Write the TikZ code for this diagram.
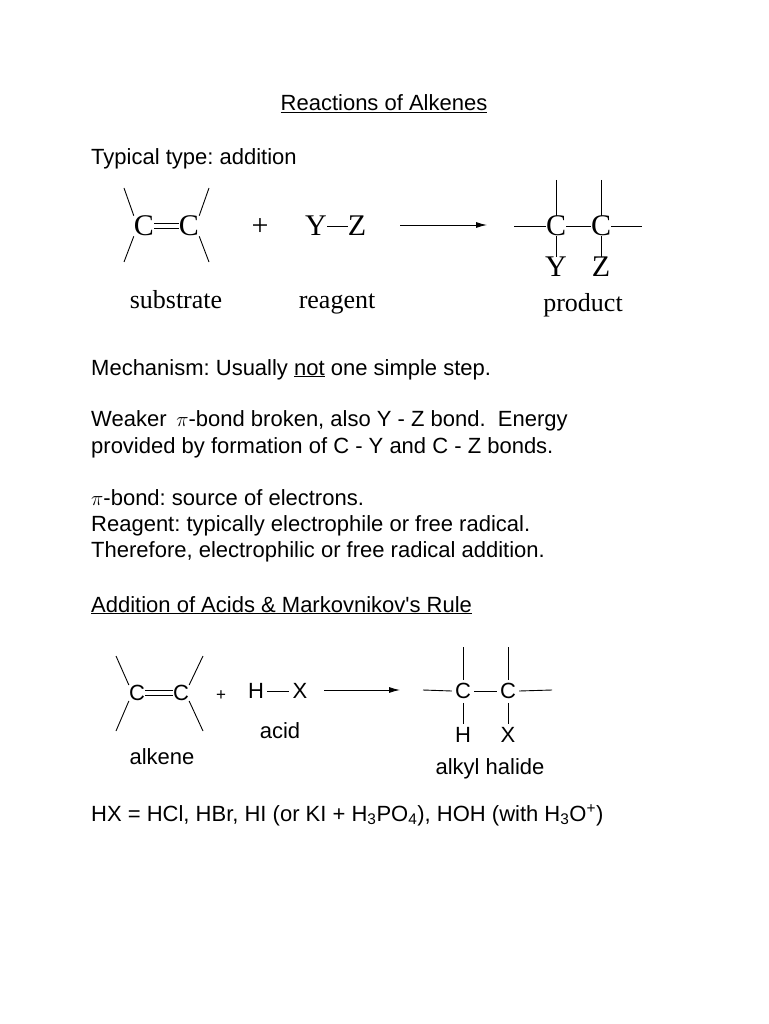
\documentclass[tikz,border=0pt]{standalone}
\usepackage{fontspec}
\setmainfont{Liberation Sans}
\newfontfamily\serif{Liberation Serif}
\usetikzlibrary{arrows.meta}
\frenchspacing
\begin{document}
\begin{tikzpicture}[x=1pt,y=-1pt,
  txt/.style={anchor=base west,inner sep=0pt,font=\fontsize{22}{26}\selectfont},
  ctr/.style={inner sep=0pt,font=\fontsize{22}{26}\selectfont},
  cbase/.style={anchor=base,inner sep=0pt,font=\fontsize{22}{26}\selectfont},
  atm/.style={inner sep=0pt,font=\serif\fontsize{30}{34}\selectfont},
  lbl/.style={anchor=base,inner sep=0pt,font=\serif\fontsize{26}{30}\selectfont},
  bond/.style={line width=0.9pt},
  rarrow/.style={line width=0.9pt,-{Latex[length=11pt,width=6pt]}}]
\useasboundingbox (0,0) rectangle (768,1024);
\node[cbase] (title) at (384,111) {\underline{Reactions of Alkenes}};
\node[txt] (t1) at (91,165) {Typical type: addition};
% top reaction
\node[atm] (c1) at (144,226) {C};
\node[atm] (c2) at (189,226) {C};
\draw[bond] ([yshift=-2.5pt]c1.east) -- ([yshift=-2.5pt]c2.west);
\draw[bond] ([yshift=2.5pt]c1.east) -- ([yshift=2.5pt]c2.west);
\coordinate (a1) at (124,188); \coordinate (a2) at (124,262);
\coordinate (a3) at (209,188); \coordinate (a4) at (209,262);
\draw[bond] (a1) -- (c1.north west) (a2) -- (c1.south west);
\draw[bond] (a3) -- (c2.north east) (a4) -- (c2.south east);
\node[atm] (plus1) at (260,227) {+};
\node[atm] (y1) at (316,226) {Y};
\node[atm] (z1) at (357,226) {Z};
\draw[bond] (y1.east) -- (z1.west);
\coordinate (ar1) at (400,225); \coordinate (ar2) at (487,225);
\draw[rarrow] (ar1) -- (ar2);
\node[atm] (p1) at (556,226) {C};
\node[atm] (p2) at (601,226) {C};
\draw[bond] (p1.east) -- (p2.west);
\coordinate (pl) at (514,226); \coordinate (pr) at (642,226);
\draw[bond] (pl) -- (p1.west) (p2.east) -- (pr);
\coordinate (pu1) at (556,180); \coordinate (pu2) at (601,180);
\draw[bond] (pu1) -- (p1.north) (pu2) -- (p2.north);
\node[atm] (py) at (556,267) {Y};
\node[atm] (pz) at (601,267) {Z};
\draw[bond] (p1.south) -- (py.north) (p2.south) -- (pz.north);
\node[lbl] (sub) at (176,308) {substrate};
\node[lbl] (rea) at (337,308) {reagent};
\node[lbl] (pro) at (583,311) {product};
% text
\node[txt] (m1) at (91,375) {Mechanism: Usually \underline{not} one simple step.};
\node[txt] (w1) at (91,426) {Weaker \,{\serif$\pi$}-bond broken, also Y - Z bond.\ \ Energy};
\node[txt] (w2) at (91,453) {provided by formation of C - Y and C - Z bonds.};
\node[txt] (b1) at (91,505) {{\serif$\pi$}-bond: source of electrons.};
\node[txt] (b2) at (91,531) {Reagent: typically electrophile or free radical.};
\node[txt] (b3) at (91,557) {Therefore, electrophilic or free radical addition.};
\node[txt] (h2) at (91,612) {\underline{Addition of Acids \& Markovnikov\textquotesingle s Rule}};
% bottom reaction
\node[ctr] (d1) at (137,693) {C};
\node[ctr] (d2) at (181,693) {C};
\draw[bond] ([yshift=-2.5pt]d1.east) -- ([yshift=-2.5pt]d2.west);
\draw[bond] ([yshift=2.5pt]d1.east) -- ([yshift=2.5pt]d2.west);
\coordinate (e1) at (116,656); \coordinate (e2) at (116,731);
\coordinate (e3) at (203,656); \coordinate (e4) at (203,731);
\draw[bond] (e1) -- (d1.north west) (e2) -- (d1.south west);
\draw[bond] (e3) -- (d2.north east) (e4) -- (d2.south east);
\node[inner sep=0pt,font=\fontsize{17}{20}\selectfont] (plus2) at (221,696) {+};
\node[ctr] (hh) at (256,691) {H};
\node[ctr] (xx) at (300,691) {X};
\draw[bond] ([xshift=3pt]hh.east) -- ([xshift=-3pt]xx.west);
\coordinate (br1) at (324,690); \coordinate (br2) at (400,690);
\draw[rarrow] (br1) -- (br2);
\node[ctr] (q1) at (463,691) {C};
\node[ctr] (q2) at (508,691) {C};
\draw[bond] ([xshift=3pt]q1.east) -- ([xshift=-3pt]q2.west);
\coordinate (ql) at (423,690); \coordinate (qr) at (552,690);
\draw[bond] (ql) -- ([xshift=-3pt]q1.west) ([xshift=3pt]q2.east) -- (qr);
\coordinate (qu1) at (463,647); \coordinate (qu2) at (508,647);
\draw[bond] (qu1) -- ([yshift=3pt]q1.north) (qu2) -- ([yshift=3pt]q2.north);
\node[ctr] (qh) at (463,735) {H};
\node[ctr] (qx) at (508,735) {X};
\draw[bond] ([yshift=-4pt]q1.south) -- ([yshift=3pt]qh.north) ([yshift=-4pt]q2.south) -- ([yshift=3pt]qx.north);
\node[cbase] (acid) at (280,738) {acid};
\node[cbase] (alk) at (162,764) {alkene};
\node[cbase] (ah) at (490,774) {alkyl halide};
\node[txt] (hx) at (91,821) {HX = HCl, HBr, HI (or KI + H\textsubscript{3}PO\textsubscript{4}), HOH (with H\textsubscript{3}O\textsuperscript{+})};
\end{tikzpicture}
\end{document}
